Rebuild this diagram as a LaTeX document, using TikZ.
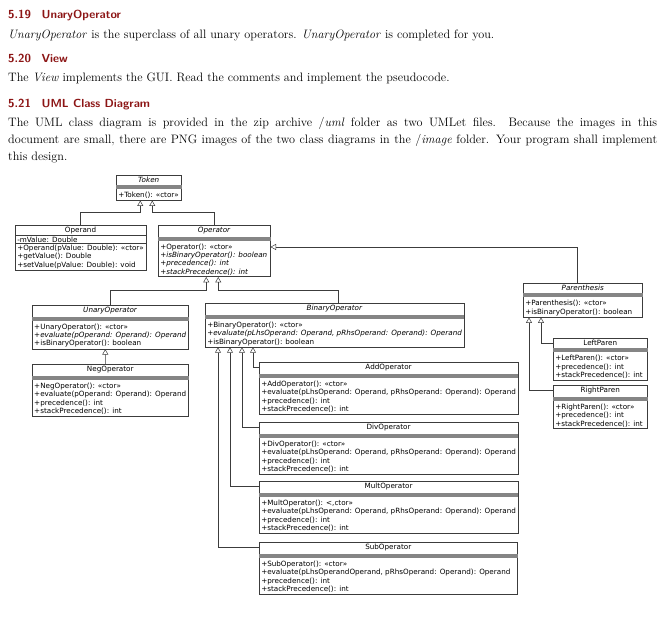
\documentclass[tikz,border=0pt]{standalone}
\usepackage{fontspec}
\usepackage{xcolor}
\usepackage{tikz}
\usetikzlibrary{shapes.multipart, arrows.meta, positioning}
\newfontfamily\umlfont{DejaVu Sans}
\definecolor{HeadRed}{HTML}{8C1515}
\definecolor{UmlLine}{HTML}{3C3C3C}
\definecolor{UmlBand}{HTML}{858585}

\begin{document}
\begin{tikzpicture}[
  x=1pt, y=-1pt,
  heading/.style={anchor=base west, inner sep=0pt, text=HeadRed,
    font=\sffamily\bfseries\fontsize{11.7}{13}\selectfont},
  body/.style={anchor=base west, inner sep=0pt,
    font=\fontsize{12.2}{16.7}\selectfont},
  umlclass/.style={rectangle split, rectangle split parts=3, draw=UmlLine,
    line width=0.5pt, fill=white, anchor=north west, align=left,
    rectangle split part align={center, left, left},
    rectangle split draw splits=false,
    inner xsep=2pt, inner ysep=1.2pt, font=\umlfont\fontsize{7.2}{8.4}\selectfont},
  split/.style={draw=UmlLine, line width=0.5pt},
  extends/.style={-{Triangle[open, width=6pt, length=5.5pt]}, line width=0.5pt,
    color=UmlLine}
]
\useasboundingbox (0,0) rectangle (670,628);

%% Section text
\node[heading] (h19) at (8,19) {5.19\hspace{0.9em}UnaryOperator};
\node[body] (p19) at (8,39) {\textit{UnaryOperator} is the superclass of all unary operators. \textit{UnaryOperator} is completed for you.};
\node[heading] (h20) at (8,63) {5.20\hspace{0.9em}View};
\node[body] (p20) at (8,82) {The \textit{View} implements the GUI. Read the comments and implement the pseudocode.};
\node[heading] (h21) at (8,108) {5.21\hspace{0.9em}UML Class Diagram};
\node[body, text width=649pt, align=justify] (p21) at (8,127) {The UML class diagram is provided in the zip archive /\textit{uml} folder as two UMLet files. Because the images in this\linebreak document are small, there are PNG images of the two class diagrams in the /\textit{image} folder. Your program shall implement\linebreak this design.};

%% Top -- Token
\node[umlclass, minimum width=65pt] (token) at (116,175)
  {\textit{Token}\nodepart{third}+Token(): «ctor»};

%% Second row -- Operand, Operator
\node[umlclass, minimum width=130pt] (operand) at (15,225)
  {Operand\nodepart{second}-mValue: Double\nodepart{third}+Operand(pValue: Double): «ctor»\\+getValue(): Double\\+setValue(pValue: Double): void};
\node[umlclass, minimum width=112pt] (operator) at (158,225)
  {\textit{Operator}\nodepart{third}+Operator(): «ctor»\\\textit{+isBinaryOperator(): boolean}\\\textit{+precedence(): int}\\\textit{+stackPrecedence(): int}};

%% Right column -- parentheses
\node[umlclass, minimum width=119pt] (paren) at (523,283)
  {\textit{Parenthesis}\nodepart{third}+Parenthesis(): «ctor»\\+isBinaryOperator(): boolean};
\node[umlclass, minimum width=94pt] (leftparen) at (553,338)
  {LeftParen\nodepart{third}+LeftParen(): «ctor»\\+precedence(): int\\+stackPrecedence(): int};
\node[umlclass, minimum width=94pt] (rightparen) at (553,385)
  {RightParen\nodepart{third}+RightParen(): «ctor»\\+precedence(): int\\+stackPrecedence(): int};

%% Left column -- unary
\node[umlclass, minimum width=154pt] (unary) at (32,305)
  {\textit{UnaryOperator}\nodepart{third}+UnaryOperator(): «ctor»\\\textit{+evaluate(pOperand: Operand): Operand}\\+isBinaryOperator(): boolean};
\node[umlclass, minimum width=154pt, below=15pt of unary.south west, anchor=north west] (negop)
  {NegOperator\nodepart{third}+NegOperator(): «ctor»\\+evaluate(pOperand: Operand): Operand\\+precedence(): int\\+stackPrecedence(): int};

%% Middle column -- binary
\node[umlclass, minimum width=258pt] (binary) at (205,303)
  {\textit{BinaryOperator}\nodepart{third}+BinaryOperator(): «ctor»\\\textit{+evaluate(pLhsOperand: Operand, pRhsOperand: Operand): Operand}\\+isBinaryOperator(): boolean};
\node[umlclass, minimum width=258pt] (addop) at (259,362)
  {AddOperator\nodepart{third}+AddOperator(): «ctor»\\+evaluate(pLhsOperand: Operand, pRhsOperand: Operand): Operand\\+precedence(): int\\+stackPrecedence(): int};
\node[umlclass, minimum width=258pt] (divop) at (259,422)
  {DivOperator\nodepart{third}+DivOperator(): «ctor»\\+evaluate(pLhsOperand: Operand, pRhsOperand: Operand): Operand\\+precedence(): int\\+stackPrecedence(): int};
\node[umlclass, minimum width=258pt] (multop) at (259,481)
  {MultOperator\nodepart{third}+MultOperator(): <,ctor»\\+evaluate(pLhsOperand: Operand, pRhsOperand: Operand): Operand\\+precedence(): int\\+stackPrecedence(): int};
\node[umlclass, minimum width=258pt] (subop) at (259,542)
  {SubOperator\nodepart{third}+SubOperator(): «ctor»\\+evaluate(pLhsOperandOperand, pRhsOperand: Operand): Operand\\+precedence(): int\\+stackPrecedence(): int};

%% Compartment lines: Operand has attributes, the rest a grey band
\draw[split] (operand.text split west) -- (operand.text split east);
\draw[split] (operand.two split west) -- (operand.two split east);
\foreach \cls in {token, operator, paren, leftparen, rightparen, unary, negop,
                  binary, addop, divop, multop, subop}
  \fill[UmlBand] ([yshift=-1.6pt]\cls.text split west) rectangle ([yshift=1.6pt]\cls.two split east);

%% Generalisations
\draw[extends] (operand.north) -- ++(0,-13) -| ([xshift=-8.5pt]token.south);
\draw[extends] (operator.north) -- ++(0,-13) -| ([xshift=3.5pt]token.south);
\draw[extends] ([xshift=-6pt]paren.north) |- ([yshift=4pt]operator.east);
\draw[extends] ([yshift=-5.5pt]leftparen.north west) -| ([xshift=18pt]paren.south west);
\draw[extends] ([yshift=-5.5pt]rightparen.north west) -| ([xshift=6pt]paren.south west);
\draw[extends] (unary.north) -- ++(0,-15) -| ([xshift=-8pt]operator.south);
\draw[extends] ([xshift=4pt]binary.north) -- ++(0,-13) -| ([xshift=4pt]operator.south);
\draw[extends] ([xshift=-5pt]negop.north) -- ([xshift=-5pt]unary.south);
\draw[extends] ([yshift=-5.5pt]addop.north west) -| ([xshift=48pt]binary.south west);
\draw[extends] ([yshift=-5.5pt]divop.north west) -| ([xshift=37pt]binary.south west);
\draw[extends] ([yshift=-5.5pt]multop.north west) -| ([xshift=25pt]binary.south west);
\draw[extends] ([yshift=-5.5pt]subop.north west) -| ([xshift=13pt]binary.south west);

\end{tikzpicture}
\end{document}
